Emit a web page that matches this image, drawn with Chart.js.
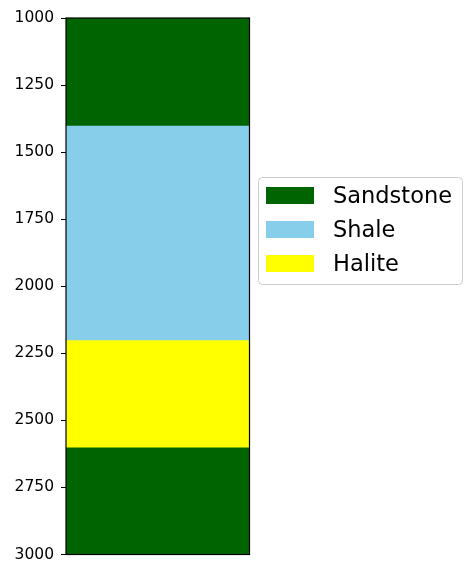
<!DOCTYPE html>
<html>
<head>
<meta charset="utf-8">
<script src="https://cdn.jsdelivr.net/npm/chart.js@4/dist/chart.umd.min.js"></script>
<style>
  html, body { margin: 0; padding: 0; background: #ffffff; }
  canvas { display: block; }
</style>
</head>
<body>
<canvas id="c" width="474" height="576"></canvas>
<script>
// ---- data ----
const categories = ['Well'];
const layerNames = ['Sandstone', 'Shale', 'Halite', 'Sandstone'];
const layerTops = [1000, 1400, 2200, 2600];
const layerBottoms = [1400, 2200, 2600, 3000];
const depthTicks = [1000, 1250, 1500, 1750, 2000, 2250, 2500, 2750, 3000];
const lithologyColors = { Sandstone: '#006400', Shale: '#87CEEB', Halite: '#FFFF00' };

const datasets = layerNames.map((name, i) => ({
  label: name,
  data: [[layerTops[i], layerBottoms[i]]],
  backgroundColor: lithologyColors[name],
  borderWidth: 0,
  grouped: false,
  barPercentage: 1.0,
  categoryPercentage: 1.0
}));

const framePlugin = {
  id: 'frame',
  afterDatasetsDraw(chart) {
    const { ctx, chartArea: a } = chart;
    ctx.save();
    ctx.strokeStyle = '#000000';
    ctx.lineWidth = 1.2;
    ctx.strokeRect(a.left, a.top, a.right - a.left, a.bottom - a.top);
    ctx.restore();
  }
};

const legendPlugin = {
  id: 'boxLegend',
  afterDraw(chart) {
    const { ctx } = chart;
    const seen = new Set();
    const items = [];
    chart.data.datasets.forEach(ds => {
      if (!seen.has(ds.label)) { seen.add(ds.label); items.push({ label: ds.label, color: ds.backgroundColor }); }
    });
    const x0 = 258.5, y0 = 177.5, w = 204, h = 107, r = 4;
    ctx.save();
    ctx.fillStyle = 'rgba(255,255,255,0.8)';
    ctx.strokeStyle = '#cccccc';
    ctx.lineWidth = 1;
    ctx.beginPath();
    ctx.moveTo(x0 + r, y0);
    ctx.lineTo(x0 + w - r, y0);
    ctx.quadraticCurveTo(x0 + w, y0, x0 + w, y0 + r);
    ctx.lineTo(x0 + w, y0 + h - r);
    ctx.quadraticCurveTo(x0 + w, y0 + h, x0 + w - r, y0 + h);
    ctx.lineTo(x0 + r, y0 + h);
    ctx.quadraticCurveTo(x0, y0 + h, x0, y0 + h - r);
    ctx.lineTo(x0, y0 + r);
    ctx.quadraticCurveTo(x0, y0, x0 + r, y0);
    ctx.closePath();
    ctx.fill();
    ctx.stroke();
    ctx.font = '22.5px "DejaVu Sans"';
    ctx.textBaseline = 'middle';
    ctx.textAlign = 'left';
    items.forEach((it, i) => {
      const cy = 195.5 + i * 34;
      ctx.fillStyle = it.color;
      ctx.fillRect(266, cy - 8.5, 48, 17);
      ctx.fillStyle = '#000000';
      ctx.fillText(it.label, 333, cy + 1.5);
    });
    ctx.restore();
  }
};

new Chart(document.getElementById('c'), {
  type: 'bar',
  data: { labels: categories, datasets },
  options: {
    responsive: false,
    animation: false,
    devicePixelRatio: 1,
    indexAxis: 'x',
    layout: { padding: { left: 0, top: 18, right: 224.5, bottom: 21.5 } },
    plugins: { legend: { display: false }, tooltip: { enabled: false } },
    scales: {
      x: { type: 'category', display: false, offset: true },
      y: {
        reverse: true,
        min: 1000,
        max: 3000,
        afterFit(scale) { scale.width = 66; },
        afterBuildTicks(scale) { scale.ticks = depthTicks.map(v => ({ value: v })); },
        border: { display: false },
        grid: { display: true, drawOnChartArea: false, drawTicks: true, tickLength: 5, color: '#000000', lineWidth: 1 },
        ticks: {
          color: '#000000',
          padding: 7,
          font: { family: 'DejaVu Sans', size: 15.5 },
          callback: (v) => String(v)
        }
      }
    }
  },
  plugins: [framePlugin, legendPlugin]
});
</script>
</body>
</html>
